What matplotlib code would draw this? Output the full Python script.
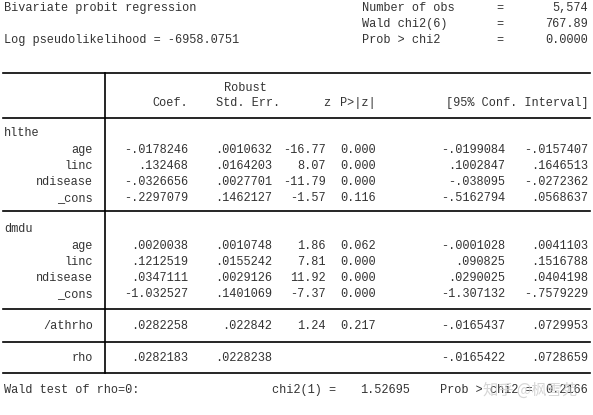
import matplotlib.pyplot as plt

W, H = 593, 415

header_left = ["Bivariate probit regression", "", "Log pseudolikelihood = -6958.0751"]
stats_names = ["Number of obs", "Wald chi2(6)", "Prob > chi2"]
stats_values = ["5,574", "767.89", "0.0000"]

col_heads = ["Coef.", "Std. Err.", "z", "P>|z|", "[95% Conf. Interval]"]

eq_names = ["hlthe", "dmdu"]
var_names = ["age", "linc", "ndisease", "_cons"]
hlthe_rows = [
    ["-.0178246", ".0010632", "-16.77", "0.000", "-.0199084", "-.0157407"],
    [".132468", ".0164203", "8.07", "0.000", ".1002847", ".1646513"],
    ["-.0326656", ".0027701", "-11.79", "0.000", "-.038095", "-.0272362"],
    ["-.2297079", ".1462127", "-1.57", "0.116", "-.5162794", ".0568637"],
]
dmdu_rows = [
    [".0020038", ".0010748", "1.86", "0.062", "-.0001028", ".0041103"],
    [".1212519", ".0155242", "7.81", "0.000", ".090825", ".1516788"],
    [".0347111", ".0029126", "11.92", "0.000", ".0290025", ".0404198"],
    ["-1.032527", ".1401069", "-7.37", "0.000", "-1.307132", "-.7579229"],
]
athrho_row = [".0282258", ".022842", "1.24", "0.217", "-.0165437", ".0729953"]
rho_row = [".0282183", ".0228238", "", "", "-.0165422", ".0728659"]
wald_test = ["Wald test of rho=0:", "chi2(1) =", "1.52695", "Prob > chi2 =", "0.2166"]

col_x = [188, 272, 326, 376, 505, 588]
label_x = 93
vline_x = 105

fig = plt.figure(figsize=(W / 100, H / 100), dpi=100)
FONT = dict(family="Liberation Mono", fontsize=8.6, color="#333333")


def put(x, y, s, ha="left", **kw):
    opts = dict(FONT)
    opts.update(kw)
    fig.text(x / W, 1 - y / H, s, ha=ha, va="center", **opts)


def hline(y, x0=3, x1=590):
    fig.add_artist(plt.Line2D([x0 / W, x1 / W], [1 - y / H, 1 - y / H], color="black", lw=1.2))


# header block
for s, y in zip(header_left, [8, 24, 40]):
    put(4, y, s)
for name, val, y in zip(stats_names, stats_values, [8, 24, 40]):
    put(362, y, name)
    put(500, y, "=", ha="center")
    put(588, y, val, ha="right")

# table rules
hline(73)
hline(118)
fig.add_artist(plt.Line2D([vline_x / W] * 2, [1 - 73 / H, 1 - 373 / H], color="black", lw=1.2))

put(245, 88, "Robust", ha="center")
put(188, 103, col_heads[0], ha="right")
put(280, 103, col_heads[1], ha="right")
put(330, 103, col_heads[2], ha="right")
put(376, 103, col_heads[3], ha="right")
put(588, 103, col_heads[4], ha="right")


def put_row(y, label, vals):
    put(label_x, y, label, ha="right")
    for x, v in zip(col_x, vals):
        put(x, y, v, ha="right")


put(4, 133, eq_names[0])
for i, (name, vals) in enumerate(zip(var_names, hlthe_rows)):
    put_row(150 + 16 * i, name, vals)
hline(211)
put(4, 229, eq_names[1])
for i, (name, vals) in enumerate(zip(var_names, dmdu_rows)):
    put_row(246 + 16 * i, name, vals)
hline(309)
put_row(326, "/athrho", athrho_row)
hline(342)
put_row(358, "rho", rho_row)
hline(373)

put(4, 390, wald_test[0])
put(272, 390, wald_test[1])
put(410, 390, wald_test[2], ha="right")
put(440, 390, wald_test[3])
put(588, 390, wald_test[4], ha="right")

# watermark
fig.text(530 / W, 1 - 390 / H, "知乎 @枫雪苑", ha="center", va="center", fontsize=11,
         family=["Noto Sans CJK SC", "DejaVu Sans"], color="#cccccc", alpha=0.8)

fig.savefig("out.png", dpi=100, facecolor="white")
